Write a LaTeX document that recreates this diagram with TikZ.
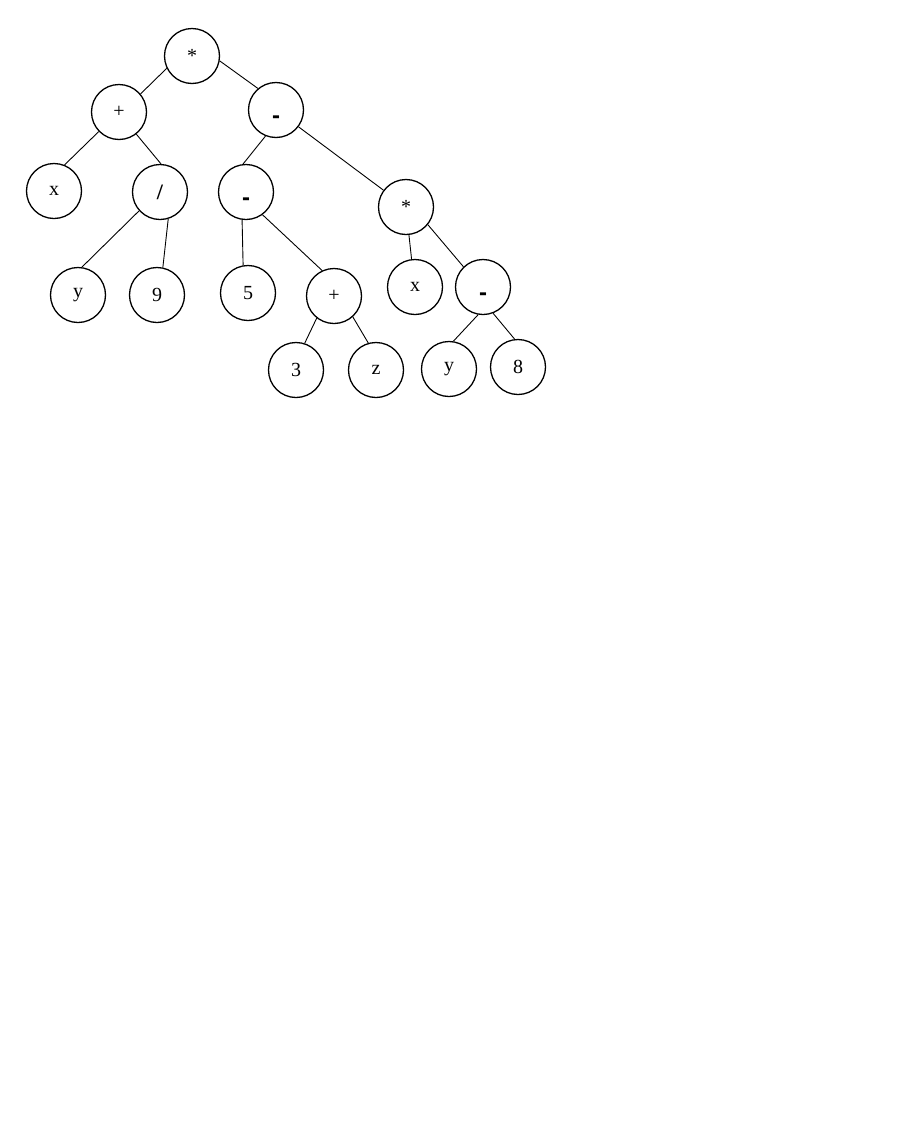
\documentclass[tikz,border=0pt]{standalone}
\usepackage{fontspec}
\setmainfont{Liberation Serif}
\newfontfamily\opfont{Liberation Sans}
\usetikzlibrary{positioning}

\begin{document}
\begin{tikzpicture}[x=1pt, y=-1pt,
        vertex/.style={draw, circle, line width=1.3, minimum size=55, inner sep=0, font=\fontsize{20}{24}\selectfont},
        minussign/.style={vertex, text height=26pt, text depth=0pt, font=\opfont\bfseries\fontsize{24}{24}\selectfont},
        edge/.style={line width=0.9}]

        \useasboundingbox (0, 0) rectangle (912, 1130);

        % Top
        \node[vertex] (mul) at (192, 56) {*};
        \node[vertex] (plus) at (119, 112) {+};
        \node[minussign] (minus) at (276, 110) {-};

        % Left
        \node[vertex] (xa) at (54, 191) {x};
        \node[vertex, font=\bfseries\fontsize{22}{24}\selectfont] (div) at (160, 192) {/};
        \node[vertex] (ya) at (78, 295) {y};
        \node[vertex] (nine) at (157, 295) {9};

        % Middle
        \node[minussign] (minusl) at (246, 192) {-};
        \node[vertex] (five) at (248, 293) {5};
        \node[vertex] (plusr) at (334, 296) {+};
        \node[vertex] (three) at (296, 370) {3};
        \node[vertex] (z) at (376, 370) {z};

        % Right
        \node[vertex] (mulr) at (406, 207) {*};
        \node[vertex] (xb) at (415, 287) {x};
        \node[minussign] (minusr) at (483, 287) {-};
        \node[vertex] (yb) at (449, 369) {y};
        \node[vertex] (eight) at (518, 367) {8};

        \draw[edge] (mul.-154) -- (plus.40);
        \draw[edge] (mul.-10) -- (minus.130);
        \draw[edge] (plus.-136) -- (xa.68);
        \draw[edge] (plus.-52) -- (div.88);
        \draw[edge] (div.-138) -- (ya.82);
        \draw[edge] (div.-73) -- (nine.78);
        \draw[edge] (minus.-112) -- (minusl.96);
        \draw[edge] (minus) -- (mulr);
        \draw[edge] (minusl.-98) -- (five.100);
        \draw[edge] (minusl.-54) -- (plusr.115);
        \draw[edge] (plusr.-128) -- (three.72);
        \draw[edge] (plusr.-48) -- (z.106);
        \draw[edge] (mulr.-84) -- (xb.97);
        \draw[edge] (mulr.-39) -- (minusr.134);
        \draw[edge] (minusr.-100) -- (yb.81);
        \draw[edge] (minusr.-69) -- (eight.97);
\end{tikzpicture}
\end{document}
